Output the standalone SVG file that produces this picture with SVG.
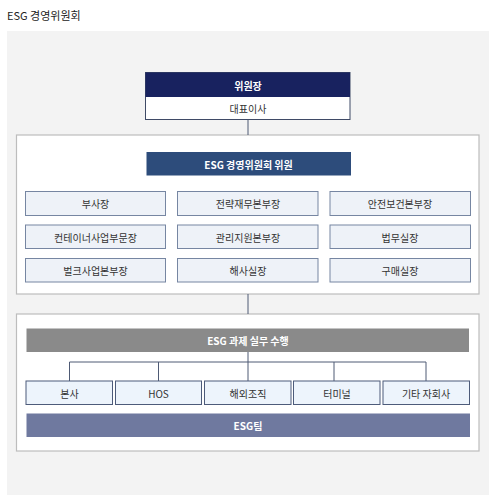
<svg xmlns="http://www.w3.org/2000/svg" width="494" height="500" viewBox="0 0 494 500">
<style>
text{font-family:"Noto Sans CJK KR","Noto Sans",sans-serif;text-anchor:middle;dominant-baseline:central}
.t{font-size:10px;fill:#333}
.w{font-size:10px;fill:#fff;font-weight:600}
.g{fill:#eef2f8;stroke:#7686a2;stroke-width:1}
.b{fill:#edf4fc;stroke:#4d5b7a;stroke-width:1}
.panel{fill:#fff;stroke:#bdbdbd;stroke-width:1.2}
.ln{stroke:#4e5a74;stroke-width:1;fill:none}
</style>
<rect width="494" height="500" fill="#fff"/>
<text x="7" y="15" style="text-anchor:start;font-size:11px;fill:#222">ESG 경영위원회</text>
<rect x="7" y="31" width="482" height="464" fill="#f3f3f3"/>
<g id="panel1"><rect class="panel" x="16.5" y="135" width="462.5" height="159"/></g>
<g id="panel2"><rect class="panel" x="16.5" y="314" width="462.5" height="137"/></g>
<g id="connectors">
<path class="ln" d="M248 119V135M248 294V314M248 352V362M69.5 381V362H426V381M158.5 362V381M248 362V381M334 362V381"/>
</g>
<g id="chair">
<rect x="145.5" y="72.5" width="204.5" height="47" fill="#fff" stroke="#3f4a66" stroke-width="1"/>
<rect x="145.5" y="72.5" width="204.5" height="24.5" fill="#18225f"/>
<text class="w" x="248" y="85">위원장</text>
<text class="t" x="248" y="108">대표이사</text>
</g>
<g id="members-header">
<rect x="146.5" y="152" width="204.5" height="23.5" fill="#2d4c7b"/>
<text class="w" x="248.5" y="164">ESG 경영위원회 위원</text>
</g>
<g id="m1"><rect class="g" x="25.5" y="191.5" width="140" height="24"/><text class="t" x="95.5" y="203.5">부사장</text></g>
<g id="m2"><rect class="g" x="177.5" y="191.5" width="140.5" height="24"/><text class="t" x="248" y="203.5">전략재무본부장</text></g>
<g id="m3"><rect class="g" x="330" y="191.5" width="140.5" height="24"/><text class="t" x="400" y="203.5">안전보건본부장</text></g>
<g id="m4"><rect class="g" x="25.5" y="225" width="140" height="23.5"/><text class="t" x="95.5" y="237">컨테이너사업부문장</text></g>
<g id="m5"><rect class="g" x="177.5" y="225" width="140.5" height="23.5"/><text class="t" x="248" y="237">관리지원본부장</text></g>
<g id="m6"><rect class="g" x="330" y="225" width="140.5" height="23.5"/><text class="t" x="400" y="237">법무실장</text></g>
<g id="m7"><rect class="g" x="25.5" y="258.5" width="140" height="23.5"/><text class="t" x="95.5" y="270.5">벌크사업본부장</text></g>
<g id="m8"><rect class="g" x="177.5" y="258.5" width="140.5" height="23.5"/><text class="t" x="248" y="270.5">해사실장</text></g>
<g id="m9"><rect class="g" x="330" y="258.5" width="140.5" height="23.5"/><text class="t" x="400" y="270.5">구매실장</text></g>
<g id="tasks">
<rect x="26.5" y="328.5" width="442.5" height="23.5" fill="#8a8a8a"/>
<text class="w" x="248" y="340.5">ESG 과제 실무 수행</text>
</g>
<g id="o1"><rect class="b" x="26" y="381" width="86.5" height="23.5"/><text class="t" x="69.5" y="393">본사</text></g>
<g id="o2"><rect class="b" x="115.5" y="381" width="86" height="23.5"/><text class="t" x="158.5" y="393">HOS</text></g>
<g id="o3"><rect class="b" x="204.5" y="381" width="86.5" height="23.5"/><text class="t" x="248" y="393">해외조직</text></g>
<g id="o4"><rect class="b" x="293.5" y="381" width="86.5" height="23.5"/><text class="t" x="337" y="393">터미널</text></g>
<g id="o5"><rect class="b" x="383" y="381" width="86.5" height="23.5"/><text class="t" x="426" y="393">기타 자회사</text></g>
<g id="team">
<rect x="26.5" y="413.5" width="443.5" height="23.5" fill="#6f799f"/>
<text class="w" x="248" y="425.5">ESG팀</text>
</g>
</svg>
